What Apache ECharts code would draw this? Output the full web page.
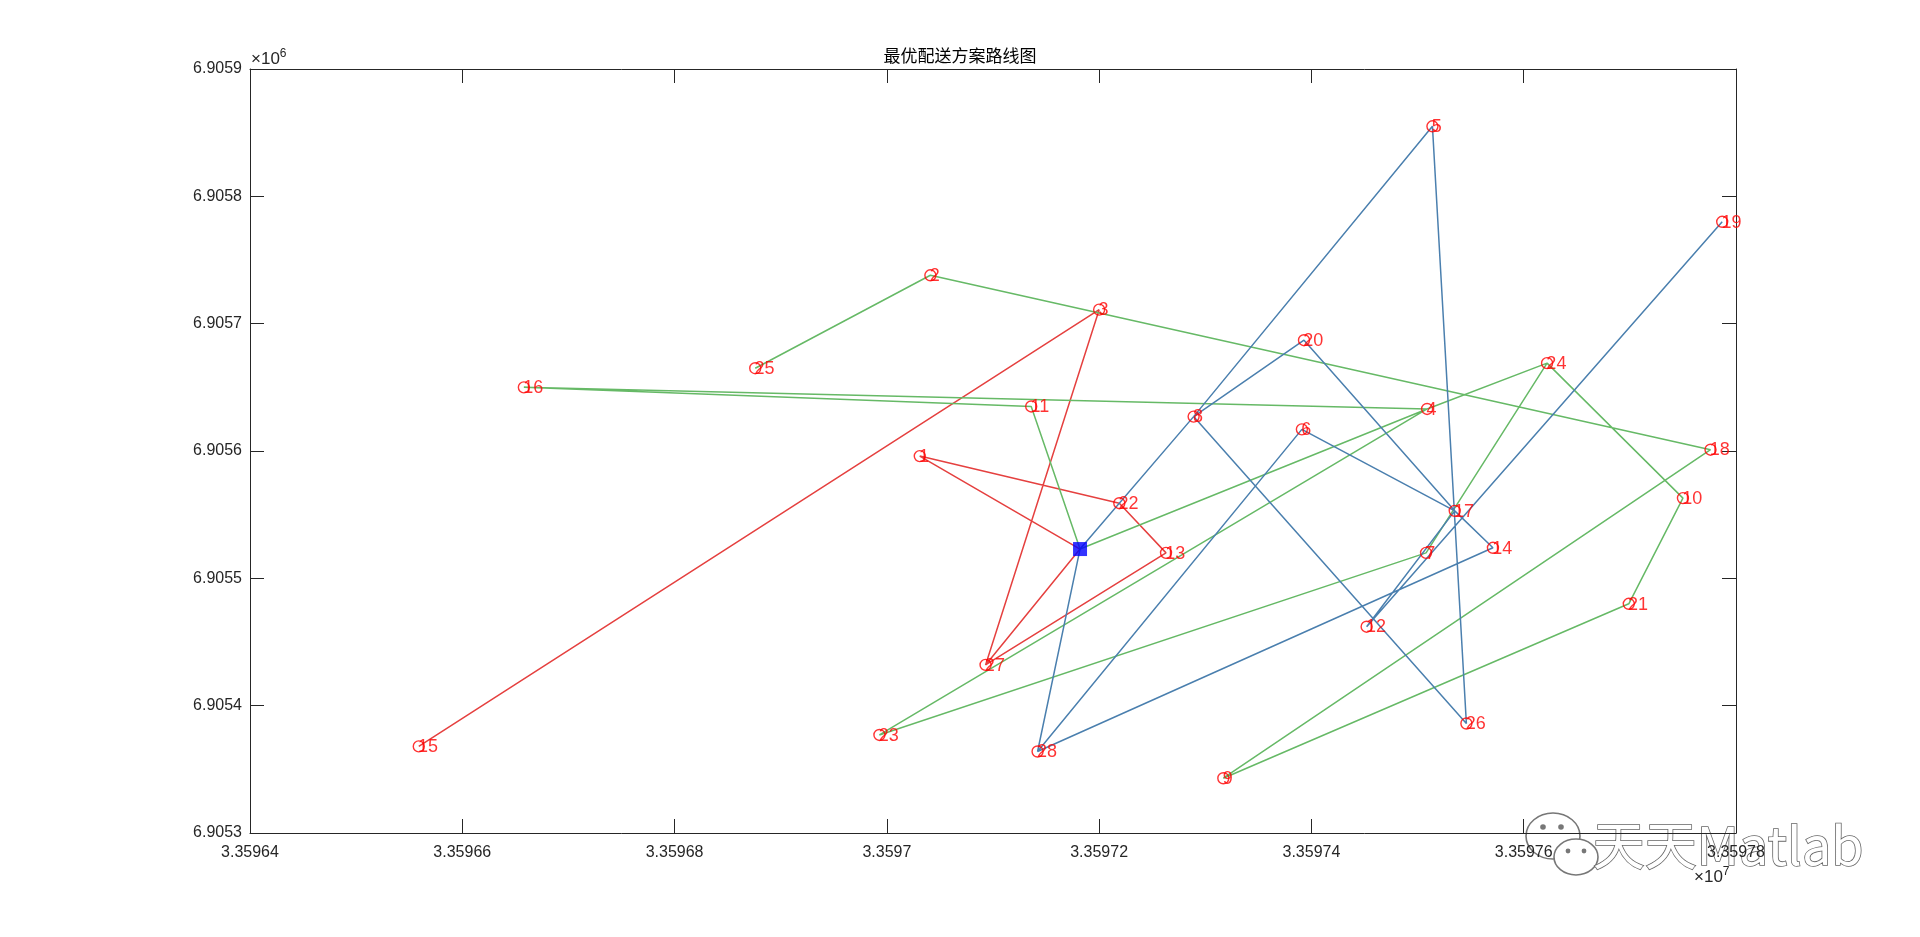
<!DOCTYPE html>
<html>
<head>
<meta charset="utf-8">
<title>最优配送方案路线图</title>
<script src="https://cdn.jsdelivr.net/npm/echarts@6/dist/echarts.min.js"></script>
<style>
  html, body { margin: 0; padding: 0; background: #fff; }
  #main { width: 1920px; height: 937px; }
</style>
</head>
<body>
<div id="main"></div>
<script>
  // customer points 1..28
  const custX = [33597031, 33597041, 33597200, 33597509, 33597514, 33597391, 33597508,
    33597289, 33597317, 33597750, 33597136, 33597452, 33597263, 33597571, 33596559,
    33596658, 33597535, 33597776, 33597787, 33597393, 33597699, 33597219, 33596993,
    33597622, 33596876, 33597546, 33597093, 33597142]
  const custY = [6905596, 6905738, 6905711, 6905633, 6905855, 6905617, 6905520,
    6905627, 6905343, 6905563, 6905635, 6905462, 6905520, 6905524, 6905368,
    6905650, 6905553, 6905601, 6905780, 6905687, 6905480, 6905559, 6905377,
    6905669, 6905665, 6905386, 6905432, 6905364]
  const depotX = 33597182
  const depotY = 6905523

  // routes (0 = depot)
  const routeRed = [15, 3, 27, 0, 1, 22, 13, 27]
  const routeGreen = [25, 2, 18, 9, 21, 10, 24, 7, 23, 4, 16, 11, 0, 4, 24]
  const routeBlue = [19, 12, 17, 14, 28, 0, 8, 5, 26, 8, 20, 17, 6, 28]

  const axisColor = '#262626'
  const font = 'Liberation Sans, Arial, sans-serif'

  function pt(id) {
    return id === 0 ? [depotX, depotY] : [custX[id - 1], custY[id - 1]]
  }

  function routeSeries(route, color) {
    return {
      type: 'line',
      data: route.map(pt),
      symbol: 'none',
      lineStyle: {color: color, width: 1.5},
      z: 2
    }
  }

  const xAxisBase = {
    type: 'value',
    min: 33596400,
    max: 33597800,
    interval: 200,
    splitLine: {show: false},
    axisLine: {show: true, onZero: false, lineStyle: {color: axisColor, width: 1}},
    axisTick: {show: true, inside: true, length: 14, lineStyle: {color: axisColor}}
  }
  const yAxisBase = {
    type: 'value',
    min: 6905300,
    max: 6905900,
    interval: 100,
    splitLine: {show: false},
    axisLine: {show: true, onZero: false, lineStyle: {color: axisColor, width: 1}},
    axisTick: {show: true, inside: true, length: 14, lineStyle: {color: axisColor}}
  }

  const expRich = {
    a: {fontSize: 17, fontFamily: font, fill: axisColor, verticalAlign: 'bottom'},
    b: {fontSize: 12, fontFamily: font, fill: axisColor, verticalAlign: 'top', padding: [0, 0, 8, 0]}
  }

  const chart = echarts.init(document.getElementById('main'))
  chart.setOption({
    animation: false,
    backgroundColor: '#fff',
    title: {
      text: '最优配送方案路线图',
      left: 'center',
      top: 42,
      textStyle: {fontSize: 17, fontWeight: 'normal', color: '#000', fontFamily: 'Noto Sans CJK SC'}
    },
    grid: {left: 250, right: 184, top: 69, bottom: 104},
    xAxis: [
      Object.assign({}, xAxisBase, {
        position: 'bottom',
        axisLabel: {
          color: axisColor, fontSize: 16, fontFamily: font, margin: 12,
          formatter: v => String(Math.round(v / 100) / 1e5)
        }
      }),
      Object.assign({}, xAxisBase, {position: 'top', axisLabel: {show: false}})
    ],
    yAxis: [
      Object.assign({}, yAxisBase, {
        position: 'left',
        axisLabel: {
          color: axisColor, fontSize: 16, fontFamily: font, margin: 8,
          formatter: v => String(Math.round(v / 100) / 1e4)
        }
      }),
      Object.assign({}, yAxisBase, {position: 'right', axisLabel: {show: false}})
    ],
    series: [
      routeSeries(routeRed, '#e5403f'),
      routeSeries(routeGreen, '#66b966'),
      routeSeries(routeBlue, '#4a7fae'),
      {
        type: 'scatter',
        data: custX.map((x, i) => [x, custY[i], i + 1]),
        symbol: 'circle',
        symbolSize: 11,
        itemStyle: {color: 'rgba(0,0,0,0)', borderColor: '#ff0000', borderWidth: 1.4},
        label: {
          show: true,
          position: [5.5, 7],
          align: 'left',
          verticalAlign: 'middle',
          color: '#ff0000',
          fontSize: 18,
          fontFamily: font,
          formatter: p => String(p.data[2])
        },
        z: 3
      },
      {
        type: 'scatter',
        data: [[depotX, depotY]],
        symbol: 'rect',
        symbolSize: 14,
        itemStyle: {color: '#0000ff'},
        z: 4
      }
    ],
    graphic: [
      {
        type: 'text',
        left: 251,
        top: 48,
        style: {text: '{a|×10}{b|6}', rich: expRich}
      },
      {
        type: 'text',
        left: 1694,
        top: 866,
        style: {text: '{a|×10}{b|7}', rich: expRich}
      },
      // watermark
      {
        type: 'group',
        z: 100,
        children: [
          {type: 'ellipse', shape: {cx: 1553, cy: 836, rx: 27, ry: 23},
            style: {fill: '#fff', stroke: '#777', lineWidth: 1.6}},
          {type: 'circle', shape: {cx: 1543, cy: 827, r: 2.8}, style: {fill: '#777'}},
          {type: 'circle', shape: {cx: 1561, cy: 827, r: 2.8}, style: {fill: '#777'}},
          {type: 'ellipse', shape: {cx: 1576, cy: 857, rx: 22, ry: 18},
            style: {fill: '#fff', stroke: '#777', lineWidth: 1.6}},
          {type: 'circle', shape: {cx: 1568, cy: 851, r: 2.4}, style: {fill: '#777'}},
          {type: 'circle', shape: {cx: 1584, cy: 851, r: 2.4}, style: {fill: '#777'}},
          {
            type: 'text',
            left: 1592,
            top: 818,
            style: {
              text: '天天Matlab',
              fontSize: 52,
              fontFamily: 'Noto Sans CJK SC',
              fill: '#fff',
              stroke: '#666',
              lineWidth: 1.6
            }
          }
        ]
      }
    ]
  })
</script>
</body>
</html>
